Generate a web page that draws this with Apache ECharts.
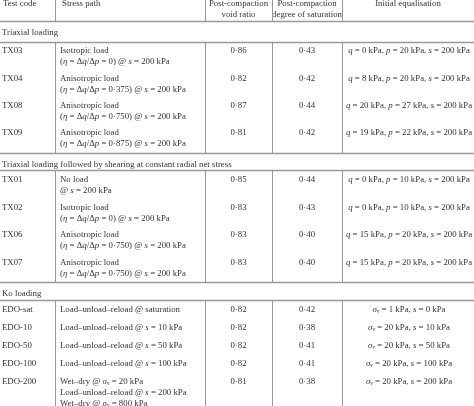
<!DOCTYPE html><html><head><meta charset="utf-8">
<script src="https://cdn.jsdelivr.net/npm/echarts@6/dist/echarts.min.js"></script>
<style>html,body{margin:0;padding:0;background:#fff}#c{width:474px;height:406px}</style></head><body><div id="c"></div>
<script>
var headers=[["Test code"],["Stress path"],["Post-compaction","void ratio"],["Post-compaction","degree of saturation"],["Initial equalisation"]];
var sections=["Triaxial loading","Triaxial loading followed by shearing at constant radial net stress","Ko loading"];
var testCodes=[["TX03","TX04","TX08","TX09"],["TX01","TX02","TX06","TX07"],["EDO-sat","EDO-10","EDO-50","EDO-100","EDO-200"]];
var stressPaths=[
["Isotropic load\n({i|η} = Δ{i|q}/Δ{i|p} = 0) @ {i|s} = 200 kPa","Anisotropic load\n({i|η} = Δ{i|q}/Δ{i|p} = 0·375) @ {i|s} = 200 kPa","Anisotropic load\n({i|η} = Δ{i|q}/Δ{i|p} = 0·750) @ {i|s} = 200 kPa","Anisotropic load\n({i|η} = Δ{i|q}/Δ{i|p} = 0·875) @ {i|s} = 200 kPa"],
["No load\n@ {i|s} = 200 kPa","Isotropic load\n({i|η} = Δ{i|q}/Δ{i|p} = 0) @ {i|s} = 200 kPa","Anisotropic load\n({i|η} = Δ{i|q}/Δ{i|p} = 0·750) @ {i|s} = 200 kPa","Anisotropic load\n({i|η} = Δ{i|q}/Δ{i|p} = 0·750) @ {i|s} = 200 kPa"],
["Load–unload–reload @ saturation","Load–unload–reload @ {i|s} = 10 kPa","Load–unload–reload @ {i|s} = 50 kPa","Load–unload–reload @ {i|s} = 100 kPa","Wet–dry @ {i|σ}ᵥ = 20 kPa\nLoad–unload–reload @ {i|s} = 200 kPa\nWet–dry @ {i|σ}ᵥ = 800 kPa"]];
var voidRatio=[["0·86","0·82","0·87","0·81"],["0·85","0·83","0·83","0·83"],["0·82","0·82","0·82","0·82","0·81"]];
var saturation=[["0·43","0·42","0·44","0·42"],["0·44","0·43","0·40","0·40"],["0·42","0·38","0·41","0·41","0·38"]];
var equalisation=[
["{i|q} = 0 kPa, {i|p} = 20 kPa, {i|s} = 200 kPa","{i|q} = 8 kPa, {i|p} = 20 kPa, {i|s} = 200 kPa","{i|q} = 20 kPa, {i|p} = 27 kPa, {i|s} = 200 kPa","{i|q} = 19 kPa, {i|p} = 22 kPa, {i|s} = 200 kPa"],
["{i|q} = 0 kPa, {i|p} = 10 kPa, {i|s} = 200 kPa","{i|q} = 0 kPa, {i|p} = 10 kPa, {i|s} = 200 kPa","{i|q} = 15 kPa, {i|p} = 20 kPa, {i|s} = 200 kPa","{i|q} = 15 kPa, {i|p} = 20 kPa, {i|s} = 200 kPa"],
["{i|σ}ᵥ = 1 kPa, {i|s} = 0 kPa","{i|σ}ᵥ = 20 kPa, {i|s} = 10 kPa","{i|σ}ᵥ = 20 kPa, {i|s} = 50 kPa","{i|σ}ᵥ = 20 kPa, {i|s} = 100 kPa","{i|σ}ᵥ = 20 kPa, {i|s} = 200 kPa"]];

var FONT='"Liberation Serif","DejaVu Serif",serif',FS=8.8,COL='#333',LC='#999';
var colX=[0,55,205,272,342,474];
var secY=[[21,42,153],[153,170,282],[282,300,406]];
var rowY=[[45,73,100,127],[174,202,229,257],[304,322,340,358,376]];
var rich={i:{fontStyle:'italic',fontFamily:FONT,fontSize:FS,fill:COL}};
var g=[];
function txt(x,y,s,align){g.push({type:'text',x:x,y:y,style:{text:s,font:FS+'px '+FONT,fill:COL,align:align||'left',verticalAlign:'top',lineHeight:11,rich:rich}});}
function line(x1,y1,x2,y2,w){g.push({type:'line',shape:{x1:x1,y1:y1,x2:x2,y2:y2},style:{stroke:LC,lineWidth:w||1}});}
headers.forEach(function(h,i){var cx=(colX[i]+colX[i+1])/2;
 txt(i==0?3:(i==1?62:cx),-2,h.join('\n'),i<2?'left':'center');});
for(var i=1;i<5;i++)line(colX[i]+.5,0,colX[i]+.5,21);
line(0,21.5,474,21.5,1.5);
for(var s=0;s<3;s++){
 var t=secY[s];
 txt(2,t[0]+6,sections[s]);
 line(0,t[1]+.5,474,t[1]+.5,1.5);
 if(s<2)line(0,t[2]+.5,474,t[2]+.5,1.5);
 for(var i=1;i<5;i++)line(colX[i]+.5,t[1],colX[i]+.5,t[2]);
 testCodes[s].forEach(function(c,r){var y=rowY[s][r];
  txt(2,y,c);txt(60,y,stressPaths[s][r]);
  txt((colX[2]+colX[3])/2,y,voidRatio[s][r],'center');
  txt((colX[3]+colX[4])/2,y,saturation[s][r],'center');
  txt((colX[4]+colX[5])/2+1,y,equalisation[s][r],'center');});
}
var ch=echarts.init(document.getElementById('c'));
ch.setOption({animation:false,graphic:{elements:g}});
</script></body></html>
